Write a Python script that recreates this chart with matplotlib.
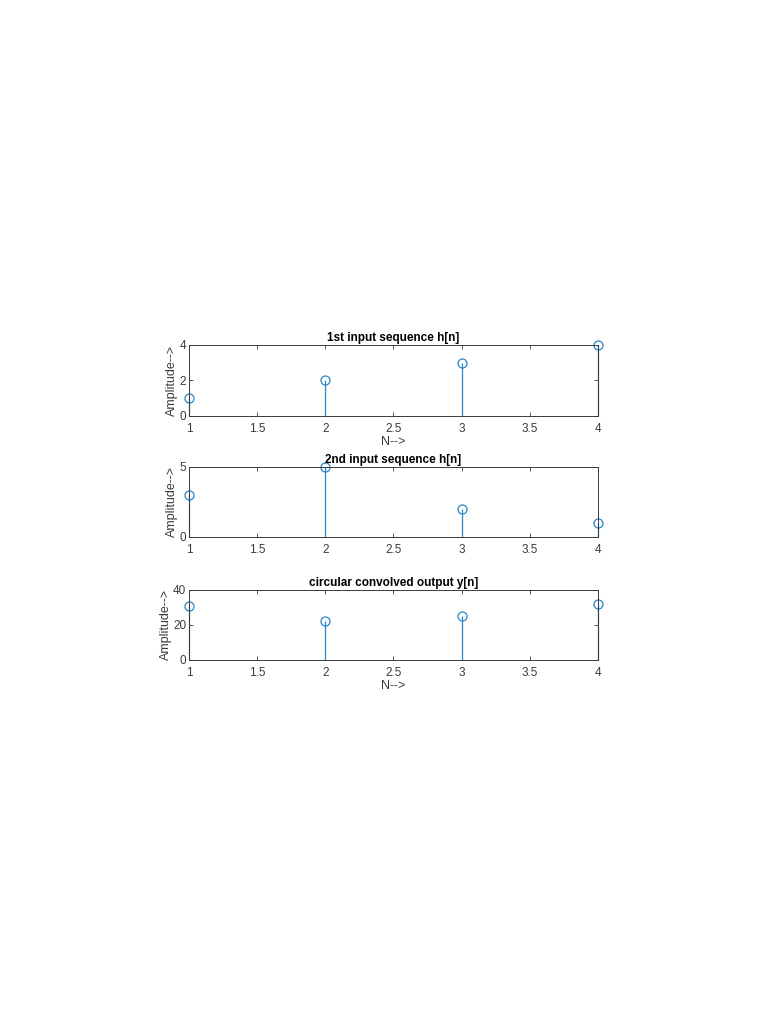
import matplotlib
matplotlib.use("Agg")
import matplotlib.pyplot as plt

n = [1, 2, 3, 4]
x1 = [1, 2, 3, 4]
x2 = [3, 5, 2, 1]
y = [31, 22, 25, 32]

titles = ["1st input sequence h[n]", "2nd input sequence h[n]",
          "circular convolved output y[n]"]
ylims = [(0, 4), (0, 5), (0, 40)]
yticks = [[0, 2, 4], [0, 5], [0, 20, 40]]
xlabels = ["N-->", None, "N-->"]

blue = "#2a86c4"
axcol = "#3a3a3a"

plt.rcParams["font.family"] = ["Liberation Sans", "DejaVu Sans"]

fig = plt.figure(figsize=(7.68, 10.24), dpi=100)

# axes boxes (left, bottom, width, height)
boxes = [
    [0.246, 0.5938, 0.5326, 0.0693],
    [0.246, 0.4756, 0.5326, 0.0684],
    [0.246, 0.3555, 0.5326, 0.0684],
]

for box, data, title, yl, yt, xl in zip(boxes, [x1, x2, y], titles, ylims, yticks, xlabels):
    ax = fig.add_axes(box)
    ml, sl, bl = ax.stem(n, data, basefmt=" ")
    plt.setp(sl, color=blue, linewidth=0.9)
    plt.setp(ml, marker="o", markersize=6.5, markerfacecolor="none",
             markeredgecolor=blue, markeredgewidth=0.9)
    ax.set_xlim(1, 4)
    ax.set_ylim(*yl)
    ax.set_yticks(yt)
    ax.set_xticks([1, 1.5, 2, 2.5, 3, 3.5, 4])
    ax.set_xticklabels(["1", "1.5", "2", "2.5", "3", "3.5", "4"])
    ax.tick_params(direction="in", top=True, right=True, length=3,
                   width=0.6, labelsize=8.5, colors=axcol)
    ax.tick_params(axis="x", pad=5)
    ax.tick_params(axis="y", pad=2)
    for s in ax.spines.values():
        s.set_linewidth(0.7)
        s.set_color(axcol)
    ax.set_title(title, fontsize=8.5, fontweight="bold", pad=3, color="black")
    ax.set_ylabel("Amplitude-->", fontsize=9, color=axcol, labelpad=1)
    if xl:
        ax.set_xlabel(xl, fontsize=9, color=axcol, labelpad=1)
    for mk in [ml, sl]:
        mk.set_clip_on(False)

fig.savefig("out.png", dpi=100)
